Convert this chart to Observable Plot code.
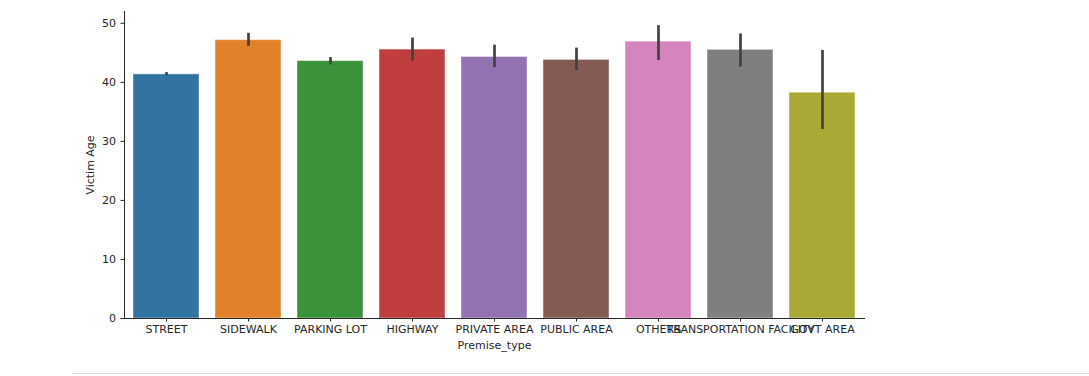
<!DOCTYPE html>
<html>
<head>
<meta charset="utf-8">
<script src="https://cdn.jsdelivr.net/npm/d3@7"></script>
<script src="https://cdn.jsdelivr.net/npm/@observablehq/plot@0.6"></script>
<style>
  html, body { margin: 0; padding: 0; background: #fff; }
  body { position: relative; width: 1089px; height: 376px; overflow: hidden; }
  #chart svg { display: block; }
  #cellrule { position: absolute; left: 72px; right: 0; top: 373px; height: 0; border-top: 1px solid #dcdcdc; }
</style>
</head>
<body>
<div id="chart"></div>
<div id="cellrule"></div>
<script>
const categories = ["STREET", "SIDEWALK", "PARKING LOT", "HIGHWAY", "PRIVATE AREA", "PUBLIC AREA", "OTHERS", "TRANSPORTATION FACILITY", "GOVT AREA"];
const meanAge = [41.35, 47.15, 43.6, 45.55, 44.3, 43.8, 46.9, 45.5, 38.25];
const ciLow = [41.1, 46.1, 42.95, 43.6, 42.5, 42.0, 43.7, 42.6, 32.0];
const ciHigh = [41.65, 48.3, 44.2, 47.5, 46.3, 45.8, 49.6, 48.2, 45.4];
const colors = ["#3274a1", "#e1812c", "#3a923a", "#c03d3e", "#9372b2", "#845b53", "#d684bd", "#7f7f7f", "#a9aa35"];
const yTicks = [0, 10, 20, 30, 40, 50];

const data = categories.map((c, i) => ({cat: c, v: meanAge[i], lo: ciLow[i], hi: ciHigh[i]}));

const chart = Plot.plot({
  width: 1089,
  height: 376,
  marginLeft: 124,
  marginRight: 225,
  marginTop: 11,
  marginBottom: 58,
  style: {fontFamily: "DejaVu Sans, sans-serif", fontSize: "11px", color: "#262626", background: "#fff"},
  x: {domain: categories, paddingInner: 0.2, paddingOuter: 0.1},
  y: {domain: [0, 52]},
  color: {domain: categories, range: colors},
  marks: [
    Plot.barY(data, {x: "cat", y: "v", fill: "cat", stroke: "#ffffff", strokeOpacity: 0.45, strokeWidth: 1}),
    Plot.ruleX(data, {x: "cat", y1: "lo", y2: "hi", stroke: "#424242", strokeWidth: 2.7}),
    Plot.frame({anchor: "left", stroke: "#262626", strokeWidth: 1}),
    Plot.frame({anchor: "bottom", stroke: "#262626", strokeWidth: 1}),
    Plot.axisY({ticks: yTicks, tickSize: 3.5, tickPadding: 5, fontSize: 11, label: "Victim Age", labelAnchor: "center", labelArrow: "none", labelOffset: 38}),
    Plot.axisX({tickSize: 3.5, tickPadding: 3, fontSize: 11, label: "Premise_type", labelAnchor: "center", labelArrow: "none", labelOffset: 30})
  ]
});
document.getElementById("chart").appendChild(chart);
</script>
</body>
</html>
